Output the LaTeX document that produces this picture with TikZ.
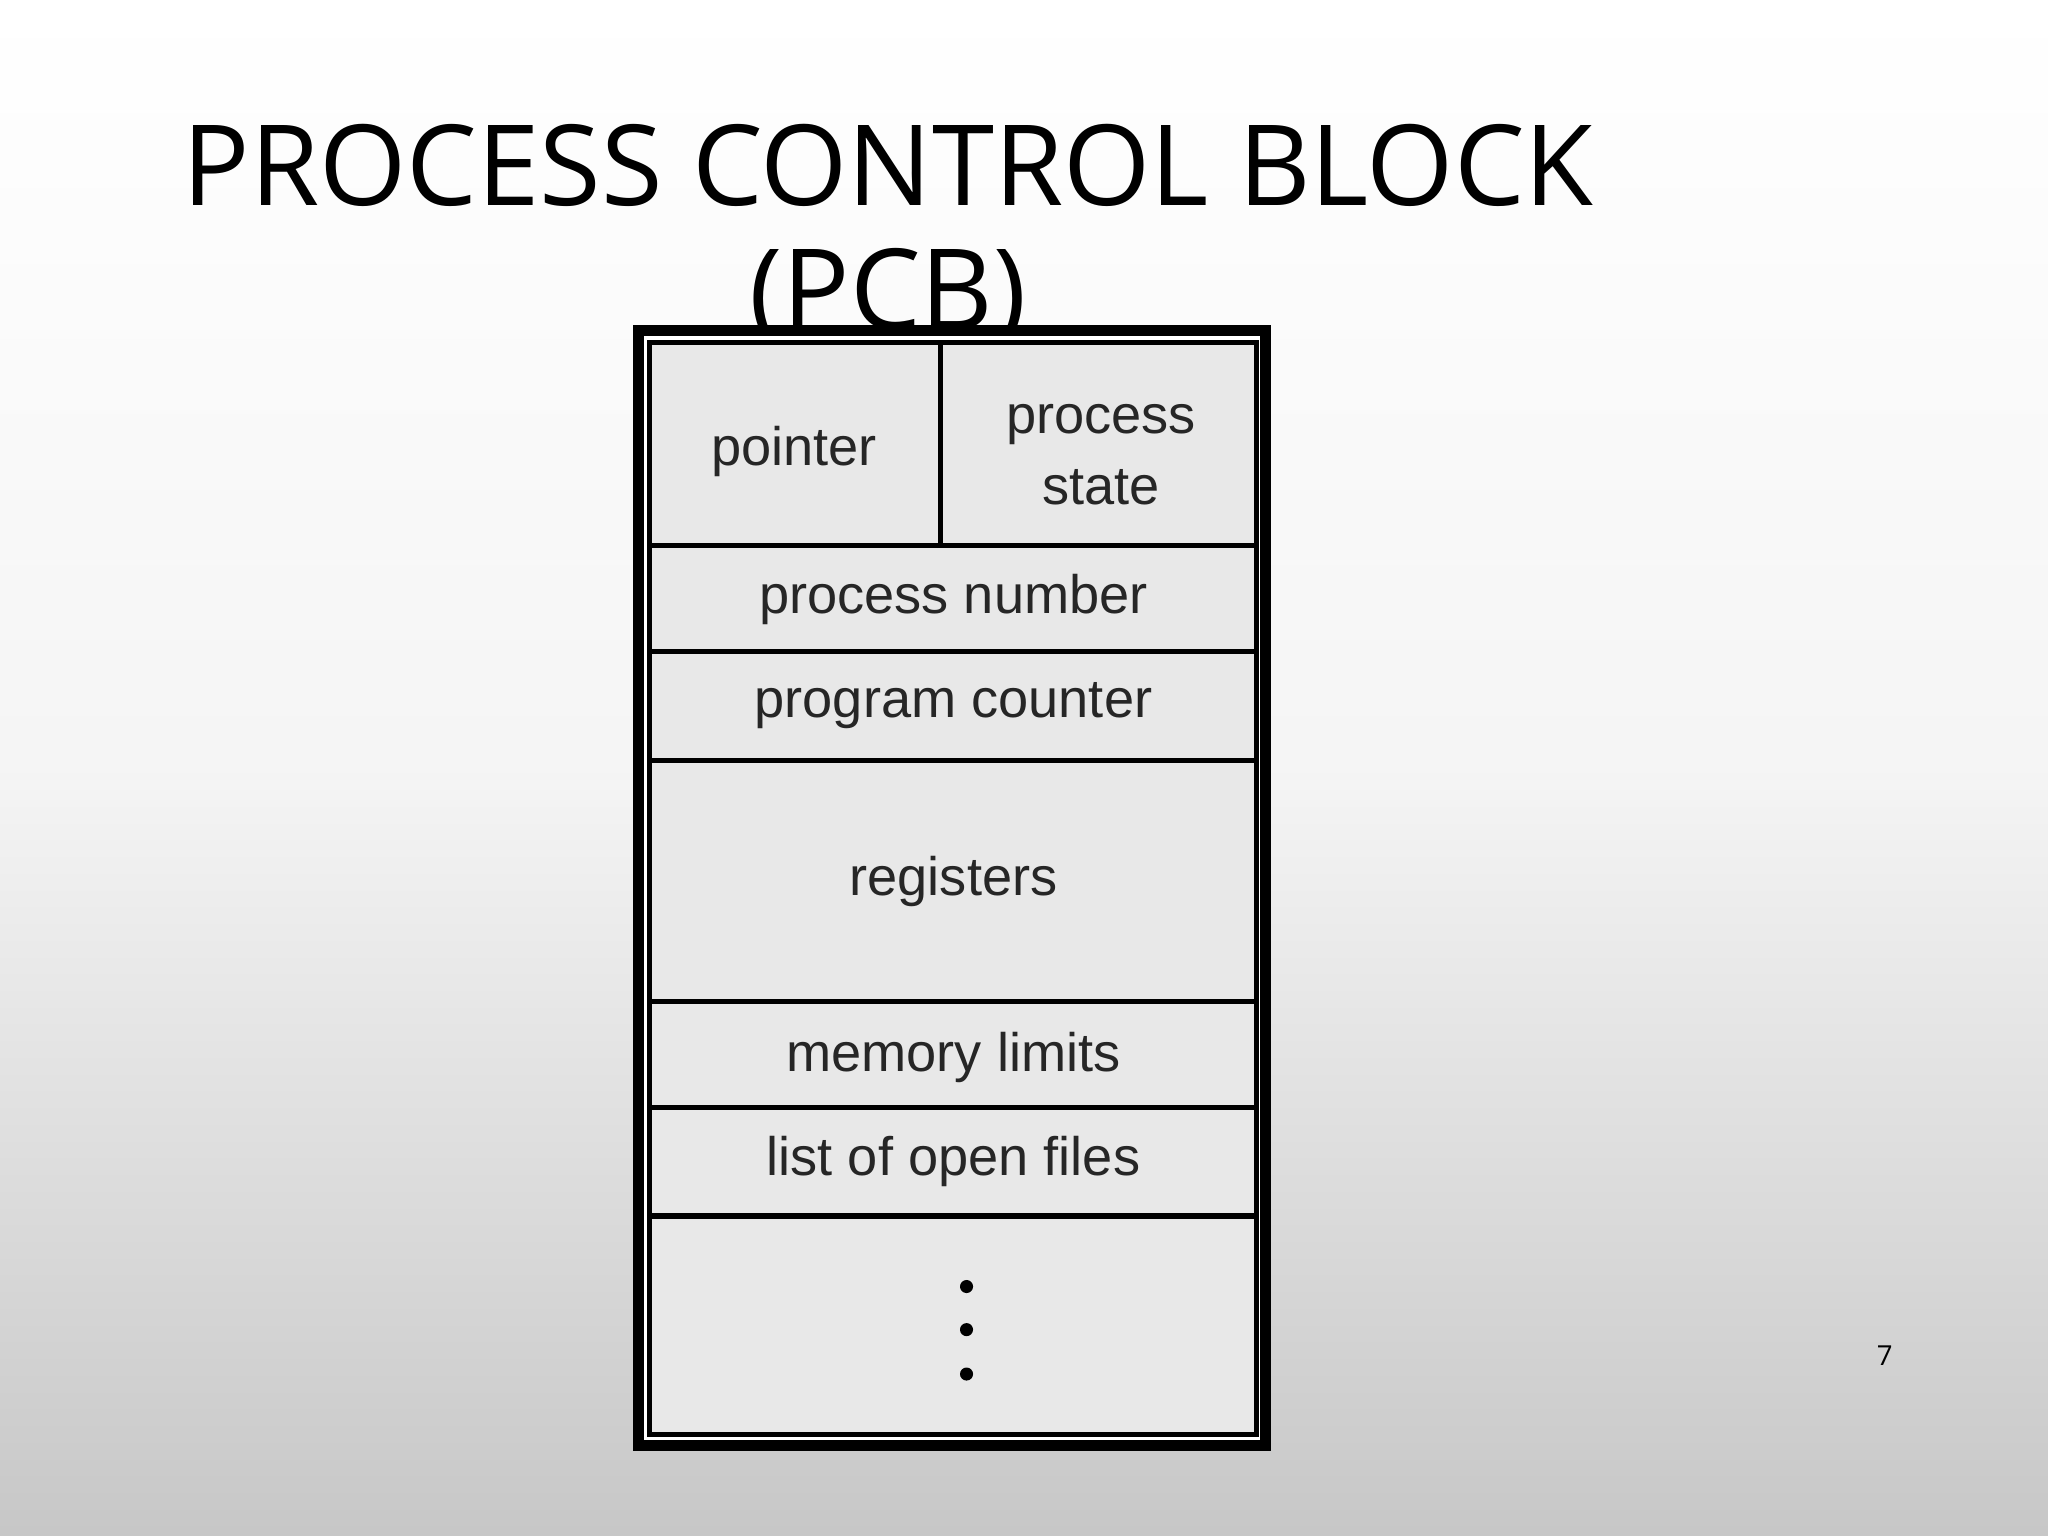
\documentclass[tikz,border=0pt]{standalone}
\usepackage{fontspec}
\setmainfont{Liberation Sans}
\newfontfamily\titlefont{Open Sans}
\begin{document}
\begin{tikzpicture}[x=0.01cm,y=-0.01cm,
  cell/.style={draw=black,line width=1.1pt,fill=gray!18},
  lbl/.style={font=\fontsize{11.8pt}{15.5pt}\selectfont,align=center,text=black!85}]
\useasboundingbox (0,0) rectangle (1568,1176);
\shade[top color=white,bottom color=black!22,middle color=black!4] (0,0) rectangle (1568,1176);
\node[font=\titlefont\fontsize{24.4pt}{30pt}\selectfont,anchor=base] (t1) at (680,157) {PROCESS CONTROL BLOCK};
\node[font=\titlefont\fontsize{24.4pt}{30pt}\selectfont,anchor=base] (t2) at (680,252) {(PCB)};
\draw[line width=2.4pt,fill=white] (489,253) rectangle (969,1107);
\draw[cell] (497,262) rectangle (720,418);
\draw[cell] (720,262) rectangle (962,418);
\draw[cell] (497,418) rectangle (962,499);
\draw[cell] (497,499) rectangle (962,582);
\draw[cell] (497,582) rectangle (962,767);
\draw[cell] (497,767) rectangle (962,848);
\draw[cell] (497,848) rectangle (962,931);
\draw[cell] (497,931) rectangle (962,1098);
\node[lbl] (p) at (608,346) {pointer};
\node[lbl] (ps) at (843,348) {process\\state};
\node[lbl] (pn) at (730,459) {process number};
\node[lbl] (pc) at (730,540) {program counter};
\node[lbl] (r) at (730,675) {registers};
\node[lbl] (m) at (730,810) {memory limits};
\node[lbl] (f) at (730,889) {list of open files};
\foreach \yy in {985,1018,1052} \fill (740,\yy) circle (5);
\node[font=\titlefont\fontsize{6pt}{7pt}\selectfont] (n) at (1443,1038) {7};
\end{tikzpicture}
\end{document}
